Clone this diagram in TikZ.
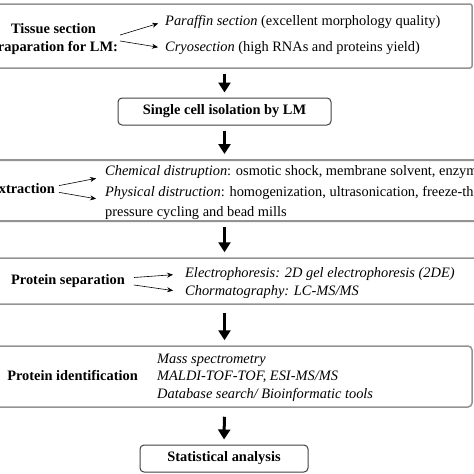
\documentclass[tikz,border=0pt]{standalone}
\usepackage{fontspec}
\setmainfont{Liberation Serif}
\usetikzlibrary{arrows.meta,positioning}

\begin{document}
\begin{tikzpicture}[x=1pt,y=-1pt,
    panel/.style={draw=gray!85,line width=1.5pt,rounded corners=2pt,inner sep=0pt},
    stepbox/.style={draw=black!75,line width=1pt,rounded corners=4pt,inner sep=0pt,
        font=\fontsize{14.4pt}{18pt}\selectfont\bfseries},
    label/.style={font=\fontsize{14.4pt}{18pt}\selectfont\bfseries,inner sep=2pt},
    item/.style={font=\fontsize{14.4pt}{18pt}\selectfont,inner sep=2pt,align=left},
    bigarrow/.style={line width=3pt,-{Triangle[width=12pt,length=10pt]},
        shorten <=5pt,shorten >=5pt},
    thinarrow/.style={line width=0.6pt,-{Stealth[length=6pt,width=5pt]}}]
  \useasboundingbox (0,0) rectangle (474,474);
  \clip (0,0) rectangle (474,474);

  % boxes
  \node[panel,minimum width=492pt,minimum height=64pt] (tissuebox) at (226,36) {};
  \node[stepbox,minimum width=213pt,minimum height=27pt] (isolation) at (224.5,111.5)
       {Single cell isolation by LM};
  \node[panel,line width=2pt,minimum width=514pt,minimum height=61pt] (extractbox) at (237,190.5) {};
  \node[panel,minimum width=514pt,minimum height=46pt] (separationbox) at (237,281) {};
  \node[panel,rounded corners=4pt,minimum width=492pt,minimum height=61pt] (identbox) at (226,376.5) {};
  \node[stepbox,minimum width=168pt,minimum height=27pt] (stats) at (224,458.5)
       {Statistical analysis};

  % tissue section
  \node[label,align=center] (tissue) at (53.5,39) {Tissue section\\Praparation for LM:};
  \node[item,anchor=west] (paraffin) at (163,22)
       {\textit{Paraffin section} (excellent morphology quality)};
  \node[item,anchor=west] (cryo) at (163,48)
       {\textit{Cryosection} (high RNAs and proteins yield)};
  \draw[thinarrow,shorten >=5pt] ([yshift=4pt]tissue.east) -- (paraffin.west);
  \draw[thinarrow,shorten >=5pt] ([yshift=-2pt]tissue.east) -- (cryo.west);

  % extraction
  \node[label,anchor=east] (extract) at (57,189) {Extraction};
  \node[item,anchor=west] (chem) at (103,172)
       {\textit{Chemical distruption}: osmotic shock, membrane solvent, enzymatic digestion};
  \node[item,anchor=west,font=\fontsize{14.4pt}{20pt}\selectfont] (phys) at (103,203)
       {\textit{Physical distruction}: homogenization, ultrasonication, freeze-thaw,\\
        pressure cycling and bead mills};
  \draw[thinarrow,shorten <=2pt,shorten >=7pt] ([yshift=3pt]extract.east) -- ([yshift=-5pt]chem.west);
  \draw[thinarrow,shorten <=2pt,shorten >=7pt] ([yshift=-3pt]extract.east) -- ([yshift=3pt]phys.west);

  % separation
  \node[label,anchor=east] (separation) at (127,281) {Protein separation};
  \node[item,anchor=west] (electro) at (183,274)
       {\textit{Electrophoresis: 2D gel electrophoresis (2DE)}};
  \node[item,anchor=west] (chroma) at (183,292) {\textit{Chormatography: LC-MS/MS}};
  \draw[thinarrow,shorten <=7pt,shorten >=10pt] ([yshift=3pt]separation.east) -- (electro.west);
  \draw[thinarrow,shorten <=7pt,shorten >=10pt] ([yshift=-3pt]separation.east) -- (chroma.west);

  % identification
  \node[label,anchor=east] (ident) at (140,375) {Protein identification};
  \node[item,anchor=west,font=\fontsize{14.4pt}{17.5pt}\selectfont\itshape] (mass) at (155,377.5)
       {Mass spectrometry\\MALDI-TOF-TOF, ESI-MS/MS\\Database search/ Bioinformatic tools};

  % main flow
  \draw[bigarrow] (tissuebox.south -| isolation.north) -- (isolation.north);
  \draw[bigarrow] (isolation.south) -- (isolation.south |- extractbox.north);
  \draw[bigarrow] (extractbox.south -| isolation.south) -- (isolation.south |- separationbox.north);
  \draw[bigarrow,shorten <=8pt] (separationbox.south -| isolation.south) -- (isolation.south |- identbox.north);
  \draw[bigarrow,shorten <=9pt] (identbox.south -| isolation.south) -- (stats.north);
\end{tikzpicture}
\end{document}
